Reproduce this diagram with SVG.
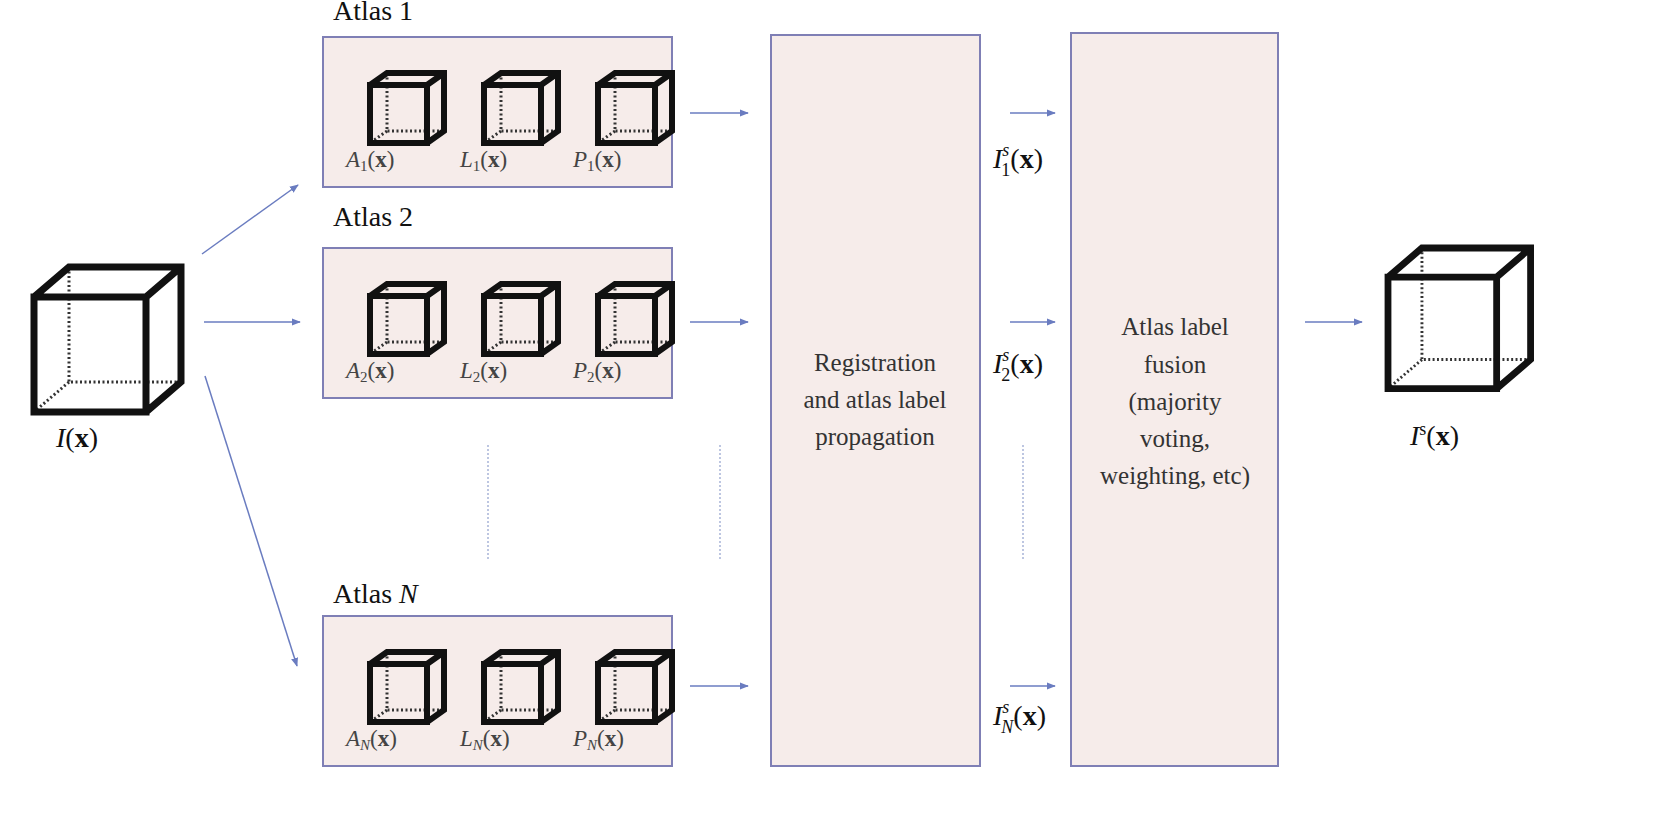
<svg xmlns="http://www.w3.org/2000/svg" xmlns:xlink="http://www.w3.org/1999/xlink" width="1670" height="826" viewBox="0 0 1670 826">
<style>
.box{fill:#f6ecea;stroke:#7f7fb5;stroke-width:2}
.cs{fill:none;stroke:#111;stroke-width:6;stroke-linejoin:miter}
.cb{fill:none;stroke:#111;stroke-width:7;stroke-linejoin:miter}
.cd{fill:none;stroke:#333;stroke-width:3;stroke-dasharray:2 2.5}
.ar{stroke:#6a7cc0;stroke-width:1.5;fill:none;marker-end:url(#ah)}
.dl{stroke:#a8b4d8;stroke-width:1.5;stroke-dasharray:2 2;fill:none}
text{font-family:"Liberation Serif","Times New Roman",serif;fill:#111}
.lb{font-size:28px}
.sl{font-size:23px;fill:#444}
.ct{font-size:25px;fill:#333;text-anchor:middle}
</style>
<defs>
<marker id="ah" viewBox="0 0 10 10" refX="9" refY="5" markerWidth="9" markerHeight="9" markerUnits="userSpaceOnUse" orient="auto"><path d="M0,1 L10,5 L0,9 Z" fill="#6a7cc0"/></marker>
<g id="sc">
<path class="cd" d="M17,0 V58 H74 M17,58 L0,70"/>
<path class="cs" d="M0,12 H57 V70 H0 Z M0,12 L17,0 H74 V58 L57,70 M57,12 L74,0"/>
</g>
<g id="bc">
<path class="cd" d="M35,0 V115 H147 M35,115 L0,145"/>
<path class="cb" d="M0,30 H112 V145 H0 Z M0,30 L35,0 H147 V115 L112,145 M112,30 L147,0"/>
</g>
</defs>
<g id="connectors">
<path class="ar" d="M202,254 L298,185"/>
<path class="ar" d="M204,322 H300"/>
<path class="ar" d="M205,376 L297,666"/>
<path class="ar" d="M690,113 H748"/>
<path class="ar" d="M690,322 H748"/>
<path class="ar" d="M690,686 H748"/>
<path class="ar" d="M1010,113 H1055"/>
<path class="ar" d="M1010,322 H1055"/>
<path class="ar" d="M1010,686 H1055"/>
<path class="ar" d="M1305,322 H1362"/>
<path class="dl" d="M488,445 V560 M720,445 V560 M1023,445 V560"/>
</g>
<g id="input">
<use xlink:href="#bc" x="34" y="267"/>
<text class="lb" x="56" y="447"><tspan font-style="italic">I</tspan>(<tspan font-weight="bold">x</tspan>)</text>
</g>
<g id="atlas1">
<text class="lb" x="333" y="20">Atlas 1</text>
<rect class="box" x="323" y="37" width="349" height="150"/>
<use xlink:href="#sc" x="370" y="73"/><use xlink:href="#sc" x="484" y="73"/><use xlink:href="#sc" x="598" y="73"/>
<text class="sl" x="346" y="167"><tspan font-style="italic">A</tspan><tspan font-size="15" dy="4">1</tspan><tspan dy="-4">(</tspan><tspan font-weight="bold">x</tspan>)</text>
<text class="sl" x="460" y="167"><tspan font-style="italic">L</tspan><tspan font-size="15" dy="4">1</tspan><tspan dy="-4">(</tspan><tspan font-weight="bold">x</tspan>)</text>
<text class="sl" x="573" y="167"><tspan font-style="italic">P</tspan><tspan font-size="15" dy="4">1</tspan><tspan dy="-4">(</tspan><tspan font-weight="bold">x</tspan>)</text>
</g>
<g id="atlas2">
<text class="lb" x="333" y="226">Atlas 2</text>
<rect class="box" x="323" y="248" width="349" height="150"/>
<use xlink:href="#sc" x="370" y="284"/><use xlink:href="#sc" x="484" y="284"/><use xlink:href="#sc" x="598" y="284"/>
<text class="sl" x="346" y="378"><tspan font-style="italic">A</tspan><tspan font-size="15" dy="4">2</tspan><tspan dy="-4">(</tspan><tspan font-weight="bold">x</tspan>)</text>
<text class="sl" x="460" y="378"><tspan font-style="italic">L</tspan><tspan font-size="15" dy="4">2</tspan><tspan dy="-4">(</tspan><tspan font-weight="bold">x</tspan>)</text>
<text class="sl" x="573" y="378"><tspan font-style="italic">P</tspan><tspan font-size="15" dy="4">2</tspan><tspan dy="-4">(</tspan><tspan font-weight="bold">x</tspan>)</text>
</g>
<g id="atlasN">
<text class="lb" x="333" y="603">Atlas <tspan font-style="italic">N</tspan></text>
<rect class="box" x="323" y="616" width="349" height="150"/>
<use xlink:href="#sc" x="370" y="652"/><use xlink:href="#sc" x="484" y="652"/><use xlink:href="#sc" x="598" y="652"/>
<text class="sl" x="346" y="746"><tspan font-style="italic">A</tspan><tspan font-size="15" dy="4" font-style="italic">N</tspan><tspan dy="-4">(</tspan><tspan font-weight="bold">x</tspan>)</text>
<text class="sl" x="460" y="746"><tspan font-style="italic">L</tspan><tspan font-size="15" dy="4" font-style="italic">N</tspan><tspan dy="-4">(</tspan><tspan font-weight="bold">x</tspan>)</text>
<text class="sl" x="573" y="746"><tspan font-style="italic">P</tspan><tspan font-size="15" dy="4" font-style="italic">N</tspan><tspan dy="-4">(</tspan><tspan font-weight="bold">x</tspan>)</text>
</g>
<g id="registration">
<rect class="box" x="771" y="35" width="209" height="731"/>
<text class="ct" x="875" y="371">Registration</text>
<text class="ct" x="875" y="408">and atlas label</text>
<text class="ct" x="875" y="445">propagation</text>
</g>
<g id="warped">
<text class="lb" x="993" y="168"><tspan font-style="italic">I</tspan><tspan font-size="18" dy="-12" font-style="italic">s</tspan><tspan font-size="18" dx="-8" dy="20">1</tspan><tspan dy="-8">(</tspan><tspan font-weight="bold">x</tspan>)</text>
<text class="lb" x="993" y="373"><tspan font-style="italic">I</tspan><tspan font-size="18" dy="-12" font-style="italic">s</tspan><tspan font-size="18" dx="-8" dy="20">2</tspan><tspan dy="-8">(</tspan><tspan font-weight="bold">x</tspan>)</text>
<text class="lb" x="993" y="725"><tspan font-style="italic">I</tspan><tspan font-size="18" dy="-12" font-style="italic">s</tspan><tspan font-size="18" dx="-8" dy="20" font-style="italic">N</tspan><tspan dy="-8">(</tspan><tspan font-weight="bold">x</tspan>)</text>
</g>
<g id="fusion">
<rect class="box" x="1071" y="33" width="207" height="733"/>
<text class="ct" x="1175" y="335">Atlas label</text>
<text class="ct" x="1175" y="373">fusion</text>
<text class="ct" x="1175" y="410">(majority</text>
<text class="ct" x="1175" y="447">voting,</text>
<text class="ct" x="1175" y="484">weighting, etc)</text>
</g>
<g id="output">
<use xlink:href="#bc" transform="translate(1388,248) scale(0.97)"/>
<text class="lb" x="1410" y="445"><tspan font-style="italic">I</tspan><tspan font-size="18" dy="-10">s</tspan><tspan dy="10">(</tspan><tspan font-weight="bold">x</tspan>)</text>
</g>
</svg>
